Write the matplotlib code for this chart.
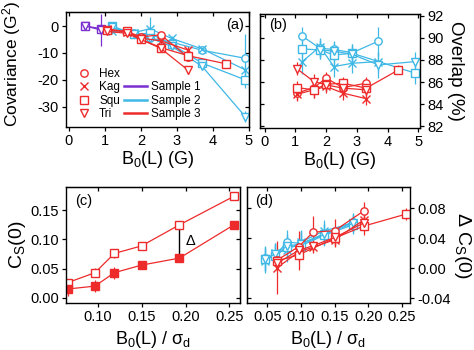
import numpy as np
import matplotlib
matplotlib.use("Agg")
import matplotlib.pyplot as plt
from matplotlib.lines import Line2D

plt.rcParams['font.family'] = ['Liberation Sans', 'DejaVu Sans']
plt.rcParams['mathtext.fontset'] = 'custom'
plt.rcParams['mathtext.rm'] = 'Liberation Sans'
plt.rcParams['mathtext.it'] = 'Liberation Sans:italic'
plt.rcParams['axes.unicode_minus'] = False

RED = '#ee2b2b'
BLUE = '#3fb8e6'
PURPLE = '#7a2fd0'

lattices = ['Hex', 'Kag', 'Squ', 'Tri']
markers = {'Hex': 'o', 'Kag': 'x', 'Squ': 's', 'Tri': 'v'}
nan = np.nan

# ---- panel (a): covariance vs B0(L) ----
x1 = [0.45, 0.9]
cov1 = {'Squ': [0.0, -1.0], 'Tri': [0.0, -1.5]}
cov1_err = {'Squ': [0.5, 1.0], 'Tri': [0.5, 6.0]}

x2 = [1.2, 1.8, 2.25, 2.85, 3.7, 4.9]
cov2 = {'Hex': [-0.5, -2.7, -4.5, -6.0, -9.0, -12.0],
        'Kag': [-2.0, -2.5, -1.0, -4.6, -8.5, -16.3],
        'Squ': [0.0, -3.0, -2.7, -6.8, -13.8, -20.0],
        'Tri': [-0.5, -3.0, -4.5, -7.5, -15.0, -33.7]}
cov2_err = {'Hex': [1, 1, 1, 1, 1.5, 9],
            'Kag': [1, 1, 4.5, 1, 1, 2],
            'Squ': [1, 1, 1, 1.5, 1.5, 3],
            'Tri': [1, 1, 1, 1, 1.5, 2]}

x3 = [1.05, 1.6, 2.0, 2.55, 3.3, 4.35]
cov3 = {'Hex': [-1.5, -2.0, -4.0, -3.3, -11.5, nan],
        'Kag': [-1.0, -2.2, -4.5, -5.5, -8.9, nan],
        'Squ': [-1.5, -2.0, -4.9, -8.0, -11.0, -14.0],
        'Tri': [-2.0, -2.7, -5.0, -8.3, -16.3, nan]}
cov3_err = {'Hex': [1, 1, 1, 1, 1.5, 0],
            'Kag': [1, 1, 1, 1, 1.5, 0],
            'Squ': [1, 1, 1, 1, 1.5, 1],
            'Tri': [1, 1, 1, 1, 1.5, 0]}

# ---- panel (b): overlap vs B0(L) ----
ov2 = {'Hex': [90.2, 89.05, 88.95, 88.65, 89.7, nan],
       'Kag': [87.8, 89.2, 87.4, 87.7, 87.85, nan],
       'Squ': [89.0, 88.9, 88.45, 88.6, nan, 86.8],
       'Tri': [nan, 88.9, 88.8, 88.5, 87.55, 87.85]}
ov2_err = {'Hex': [0.8, 0.8, 0.8, 0.8, 1.3, 0],
           'Kag': [1.1, 0.8, 0.9, 0.9, 0.9, 0],
           'Squ': [0.8, 0.8, 0.8, 0.8, 0, 1.0],
           'Tri': [0, 0.8, 0.8, 0.8, 1.2, 0.9]}
ov3 = {'Hex': [85.0, 85.5, 86.35, 85.5, 85.9, nan],
       'Kag': [84.9, 85.3, 85.6, 85.0, 84.5, nan],
       'Squ': [85.5, 85.3, 85.8, 85.9, 85.45, 87.1],
       'Tri': [87.2, 86.05, 85.75, 85.45, 85.3, nan]}
ov3_err = {'Hex': [0.6, 0.7, 0.6, 0.6, 0.6, 0],
           'Kag': [0.6, 0.7, 0.6, 0.6, 0.6, 0],
           'Squ': [0.6, 0.7, 0.6, 0.6, 0.6, 0.4],
           'Tri': [0.6, 0.7, 0.6, 0.6, 0.6, 0]}

# ---- panel (c): Cs(0) ----
xc = [0.066, 0.097, 0.119, 0.150, 0.193, 0.255]
cs_open = [0.026, 0.043, 0.076, 0.089, 0.125, 0.174]
cs_open_err = [0.005, 0.008, 0.008, 0.004, 0.004, 0.004]
cs_fill = [0.015, 0.020, 0.043, 0.056, 0.068, 0.125]
cs_fill_err = [0.012, 0.010, 0.010, 0.006, 0.006, 0.005]

# ---- panel (d): delta Cs(0) ----
xd2 = [0.047, 0.062, 0.080, 0.100, 0.135, 0.178]
dcs2 = {'Hex': [0.014, 0.018, 0.035, 0.033, 0.046, 0.062],
        'Kag': [0.010, 0.020, 0.025, 0.035, 0.050, 0.060],
        'Squ': [0.012, 0.017, 0.028, 0.030, 0.044, 0.058],
        'Tri': [0.013, 0.019, 0.030, 0.032, 0.045, 0.060]}
dcs2_err = [0.016, 0.014, 0.016, 0.016, 0.014, 0.012]
xd3 = [0.065, 0.097, 0.118, 0.150, 0.193, 0.256]
dcs3 = {'Hex': [0.011, 0.029, 0.048, 0.050, 0.076, nan],
        'Kag': [0.001, 0.022, 0.028, 0.038, 0.064, nan],
        'Squ': [0.010, 0.018, nan, 0.040, 0.056, 0.072],
        'Tri': [0.007, 0.024, 0.030, 0.041, 0.060, nan]}
dcs3_err = {'Hex': [0.010, 0.020, 0.022, 0.015, 0.012, 0],
            'Kag': [0.035, 0.010, 0.008, 0.010, 0.010, 0],
            'Squ': [0.010, 0.020, 0, 0.010, 0.012, 0.008],
            'Tri': [0.010, 0.010, 0.008, 0.010, 0.010, 0]}


def series(ax, x, y, err, color, marker, ms=5.3):
    x = np.asarray(x, float)
    y = np.asarray(y, float)
    err = np.asarray(err, float)
    ok = ~np.isnan(y)
    ax.errorbar(x[ok], y[ok], yerr=err[ok], color=color, marker=marker,
                ms=ms, mfc='white' if marker != 'x' else color, mec=color,
                mew=1.0, lw=0.9, elinewidth=0.9, capsize=0)


def frame(ax, xt, yt, right=False):
    ax.set_xticks(xt)
    ax.set_yticks(yt)
    ax.tick_params(direction='out', length=3, width=0.9, labelsize=10.5, pad=2)
    sx = ax.secondary_xaxis('top')
    sx.set_xticks(xt)
    sx.tick_params(direction='in', length=3, width=0.9, labeltop=False)
    if right:
        ax.yaxis.tick_right()
        ax.yaxis.set_label_position('right')
        sy = ax.secondary_yaxis('left')
    else:
        sy = ax.secondary_yaxis('right')
    sy.set_yticks(yt)
    sy.tick_params(direction='in', length=3, width=0.9, labelleft=False, labelright=False)
    for s in ax.spines.values():
        s.set_linewidth(1.0)


fig = plt.figure(figsize=(4.74, 3.5), dpi=100)
W, H = 474, 350


def box(l, r, t, b):
    return [l / W, 1 - b / H, (r - l) / W, (b - t) / H]


ax_a = fig.add_axes(box(66, 249, 12, 127))
ax_b = fig.add_axes(box(260, 420, 14, 128))
ax_c = fig.add_axes(box(66, 240, 187, 303))
ax_d = fig.add_axes(box(247, 410, 187, 303))

LBL = 13

# (a)
for lat in ['Squ', 'Tri']:
    series(ax_a, x1, cov1[lat], cov1_err[lat], PURPLE, markers[lat])
for lat in lattices:
    series(ax_a, x2, cov2[lat], cov2_err[lat], BLUE, markers[lat])
for lat in lattices:
    series(ax_a, x3, cov3[lat], cov3_err[lat], RED, markers[lat])
ax_a.set_xlim(-0.08, 5.0)
ax_a.set_ylim(-37.5, 5.2)
frame(ax_a, [0, 1, 2, 3, 4, 5], [0, -10, -20, -30])
ax_a.set_xlabel('B$_0$(L) (G)', fontsize=LBL, labelpad=1)
ax_a.set_ylabel('Covariance (G$^2$)', fontsize=12.5)
ax_a.yaxis.set_label_coords(-0.235, 0.55)
ax_a.text(0.97, 0.89, '(a)', transform=ax_a.transAxes, ha='right', va='center', fontsize=10.5)

handles = [Line2D([], [], ls='none', marker=markers[l], color=RED, mfc='white' if l != 'x' else RED,
                  mec=RED, ms=5.3) for l in lattices]
handles.append(Line2D([], [], color='none'))
handles += [Line2D([], [], color=c, lw=1.8) for c in (PURPLE, BLUE, RED)]
labels = lattices + [' ', 'Sample 1', 'Sample 2', 'Sample 3']
fig.legend(handles, labels, ncol=2, loc='upper left',
           bbox_to_anchor=(72 / W, 1 - 68 / H), frameon=False, fontsize=8.5,
           handlelength=2.0, handletextpad=0.3, columnspacing=0.3,
           labelspacing=0.12, borderpad=0, borderaxespad=0)

# (b)
for lat in lattices:
    series(ax_b, x2, ov2[lat], ov2_err[lat], BLUE, markers[lat])
for lat in lattices:
    series(ax_b, x3, ov3[lat], ov3_err[lat], RED, markers[lat])
ax_b.set_xlim(-0.15, 5.05)
ax_b.set_ylim(81.85, 92.15)
frame(ax_b, [0, 1, 2, 3, 4, 5], [82, 84, 86, 88, 90, 92], right=True)
ax_b.set_xlabel('B$_0$(L) (G)', fontsize=LBL, labelpad=1)
ax_b.set_ylabel('Overlap (%)', fontsize=LBL + 0.5, rotation=270, labelpad=15)
ax_b.text(0.06, 0.9, '(b)', transform=ax_b.transAxes, ha='left', va='center', fontsize=10.5)

# (c)
ax_c.errorbar(xc, cs_open, yerr=cs_open_err, color=RED, marker='s', ms=5.3,
              mfc='white', mec=RED, mew=1.0, lw=0.9, elinewidth=0.9, capsize=0)
ax_c.errorbar(xc, cs_fill, yerr=cs_fill_err, color=RED, marker='s', ms=6,
              mfc=RED, mec=RED, lw=0.9, elinewidth=0.9, capsize=0)
ax_c.plot([xc[4], xc[4]], [cs_fill[4], cs_open[4]], color='black', lw=1.0)
ax_c.text(0.2, 0.098, 'Δ', fontsize=10.5, ha='left', va='center')
ax_c.set_xlim(0.064, 0.262)
ax_c.set_ylim(-0.009, 0.19)
frame(ax_c, [0.10, 0.15, 0.20, 0.25], [0.00, 0.05, 0.10, 0.15])
ax_c.set_xticklabels(['0.10', '0.15', '0.20', '0.25'])
ax_c.set_yticklabels(['0.00', '0.05', '0.10', '0.15'])
ax_c.set_xlabel('B$_0$(L) / σ$_\\mathregular{d}$', fontsize=LBL, labelpad=4)
ax_c.set_ylabel('C$_\\mathregular{S}$(0)', fontsize=LBL + 1, labelpad=2)
ax_c.text(0.05, 0.88, '(c)', transform=ax_c.transAxes, ha='left', va='center', fontsize=10.5)

# (d)
for lat in lattices:
    series(ax_d, xd2, dcs2[lat], dcs2_err, BLUE, markers[lat])
for lat in lattices:
    series(ax_d, xd3, dcs3[lat], dcs3_err[lat], RED, markers[lat])
ax_d.set_xlim(0.02, 0.262)
ax_d.set_ylim(-0.046, 0.108)
frame(ax_d, [0.05, 0.10, 0.15, 0.20, 0.25], [-0.04, 0.00, 0.04, 0.08], right=True)
ax_d.set_xticklabels(['0.05', '0.10', '0.15', '0.20', '0.25'])
ax_d.set_yticklabels(['-0.04', '0.00', '0.04', '0.08'])
ax_d.set_xlabel('B$_0$(L) / σ$_\\mathregular{d}$', fontsize=LBL, labelpad=4)
ax_d.set_ylabel('Δ C$_\\mathregular{S}$(0)', fontsize=LBL + 1, rotation=270, labelpad=16)
ax_d.text(0.05, 0.88, '(d)', transform=ax_d.transAxes, ha='left', va='center', fontsize=10.5)

fig.savefig('out.png', dpi=100)
